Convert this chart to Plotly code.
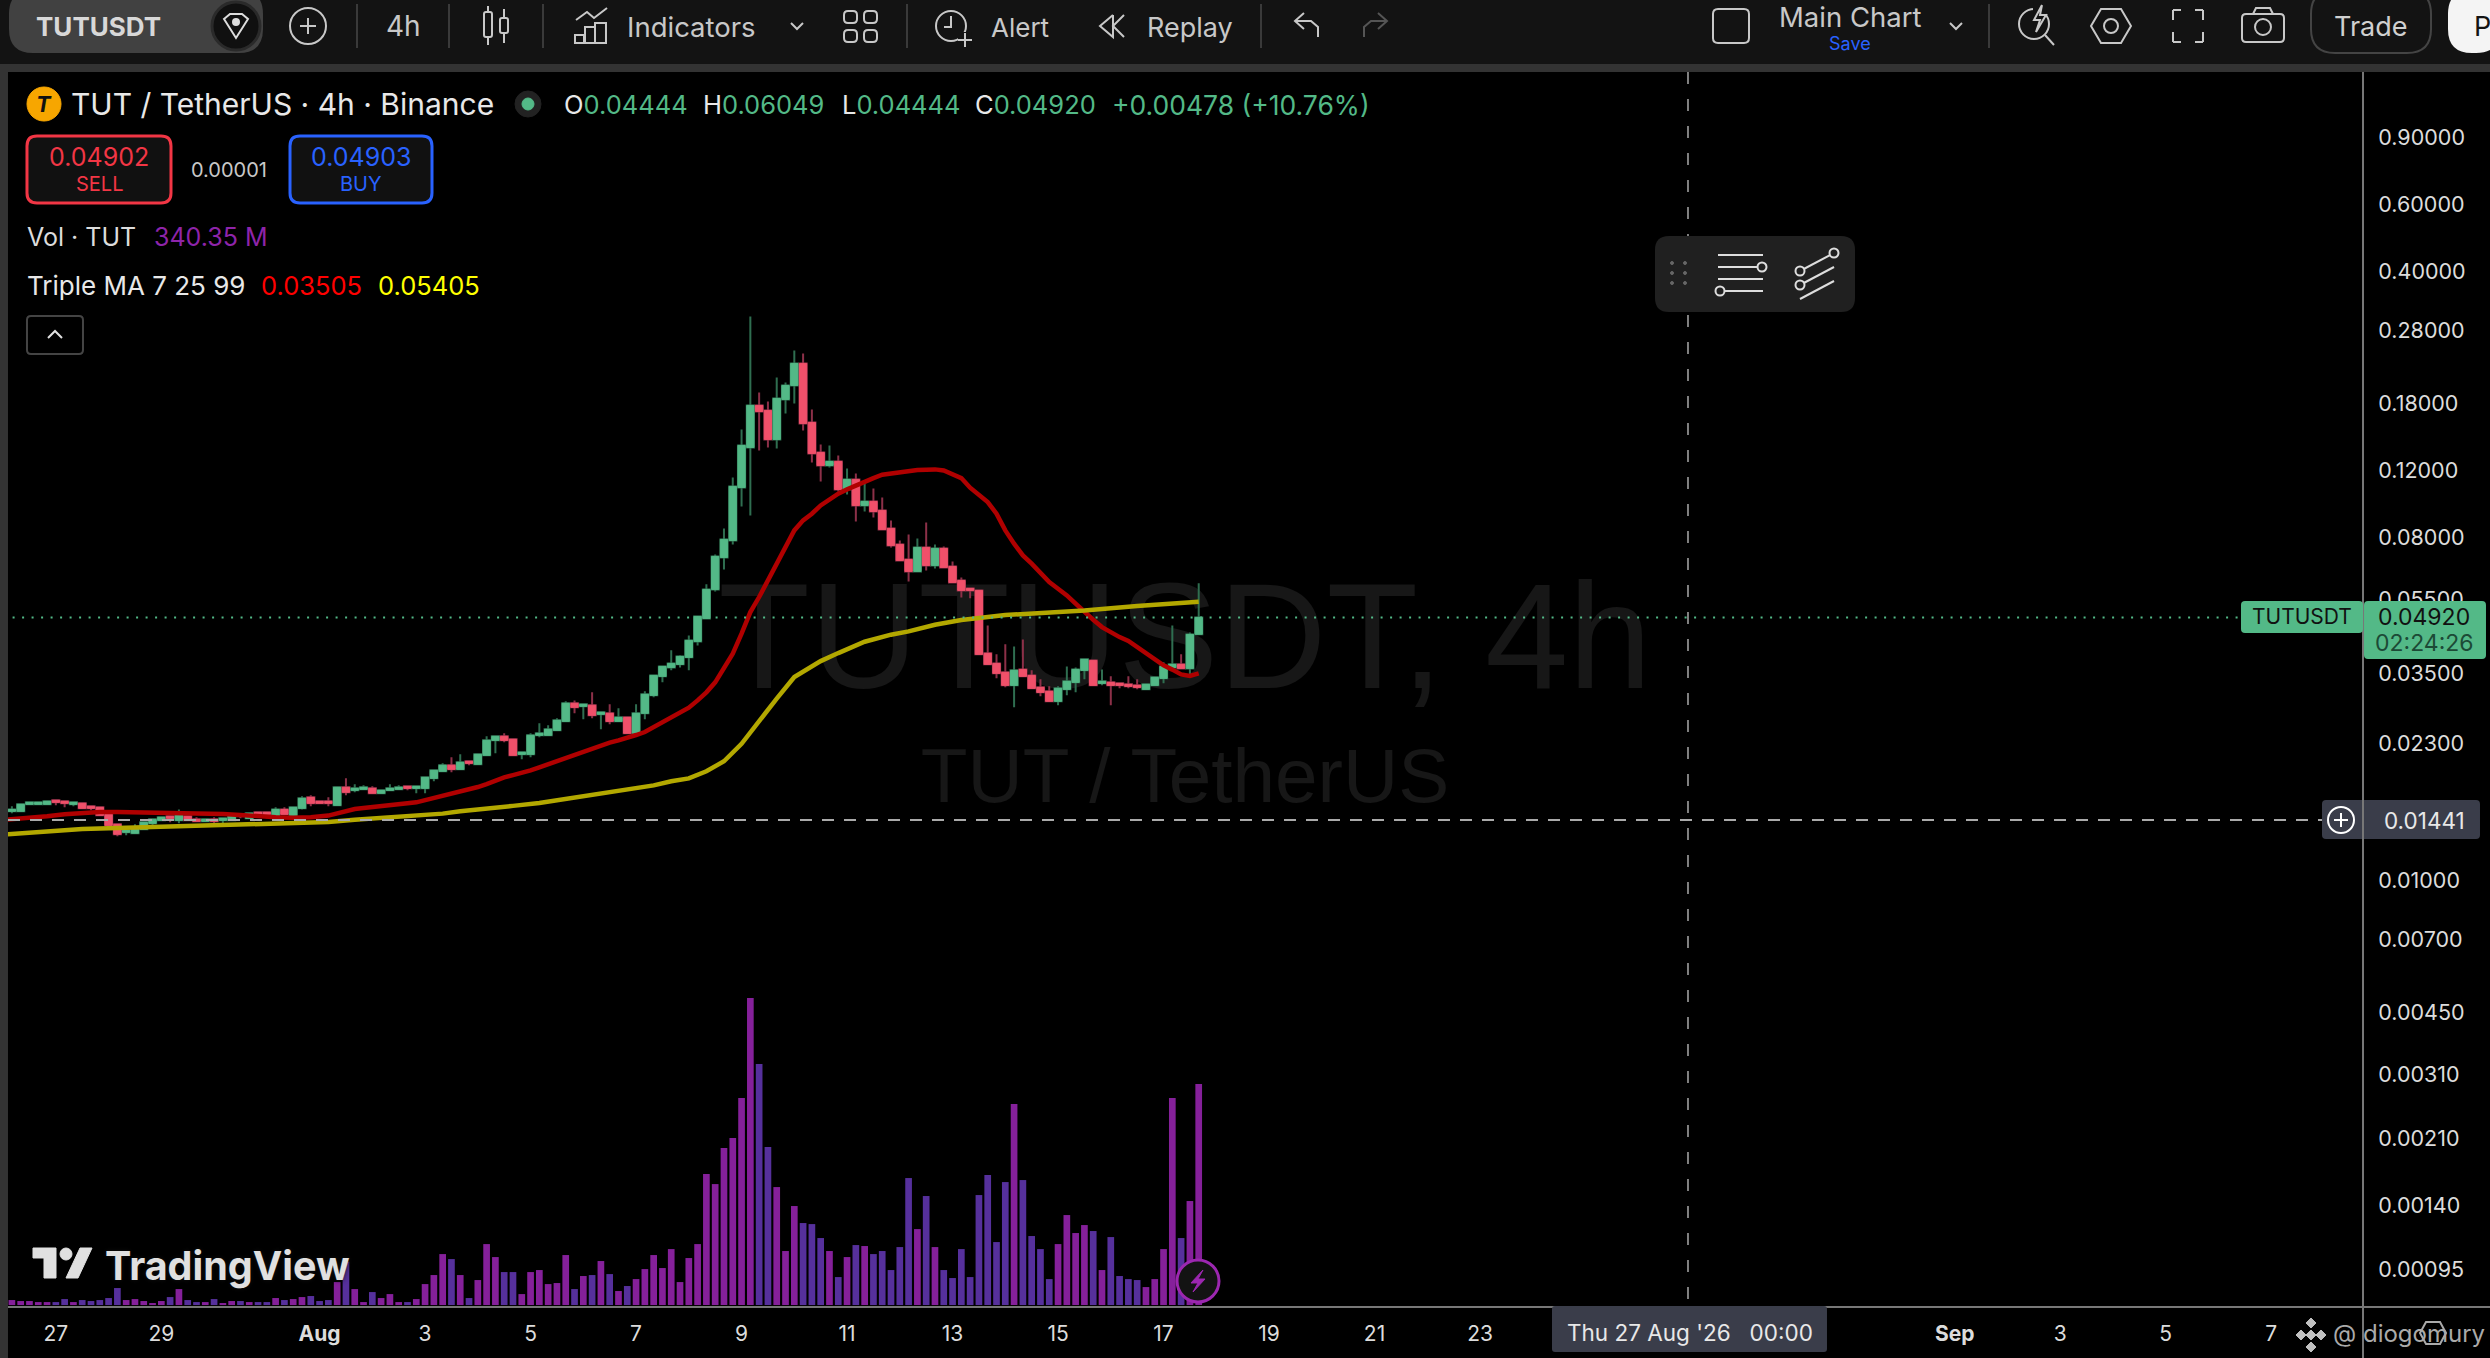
import pandas as pd
import plotly.graph_objects as go

W, H = 2490, 1358

# OHLC, 4h candles
opens = [.01522, .01522, .01588, .01588, .01588, .01627, .01617, .01588, .01598, .01569, .01559, .01495, .01407, .01341, .01333, .01365, .01415, .01441, .01477, .01441,
         .01477, .01450, .01433, .01450, .01441, .01441, .01495, .01459, .01513, .01513, .01477, .01540, .01486, .01550, .01656, .01617, .01617, .01578, .01760, .01728,
         .01739, .01749, .01698, .01728, .01739, .01770, .01749, .01749, .01858, .01939, .02011, .01962, .02060, .02023, .02136, .02338, .02396, .02353, .02149, .02149,
         .02411, .02411, .02484, .02623, .02926, .02873, .02891, .02738, .02754, .02623, .02687, .02440, .02754, .03070, .03444, .03636, .03703, .03863, .04255, .04890,
         .05828, .07073, .07839, .10802, .13760, .17741, .17211, .14443, .18397, .20022, .22873, .16006, .13350, .12341, .12642, .10672, .11338, .09688, .09925, .09399,
         .08430, .07652, .06988, .06499, .07514, .06739, .07469, .06698, .06154, .05864, .05793, .03958, .03725, .03528, .03261, .03592, .03464, .03222, .03145, .02961,
         .03183, .03321, .03571, .03793, .03301, .03321, .03301, .03281, .03261, .03183, .03261, .03402, .03636, .03703, .03614, .04444]
highs = [.01569, .01598, .01617, .01617, .01627, .01627, .01627, .01607, .01607, .01569, .01559, .01495, .01415, .01357, .01407, .01433, .01450, .01477, .01477, .01540,
         .01486, .01468, .01459, .01468, .01468, .01495, .01495, .01504, .01513, .01513, .01559, .01559, .01559, .01667, .01677, .01627, .01656, .01770, .01858, .01792,
         .01781, .01770, .01739, .01792, .01781, .01770, .01770, .01881, .01962, .02035, .02110, .02149, .02072, .02162, .02396, .02396, .02440, .02367, .02188, .02440,
         .02592, .02561, .02671, .02961, .02978, .02926, .03126, .02787, .02908, .02838, .02705, .02908, .03145, .03485, .03658, .04030, .03910, .04412, .04950, .06008,
         .07203, .08430, .11476, .15344, .30392, .19192, .18175, .21014, .20388, .24742, .24299, .17317, .14013, .13928, .13110, .12119, .11758, .11269, .10737, .10168,
         .08848, .07839, .08130, .07935, .08742, .07652, .07560, .06904, .06267, .05864, .05828, .04688, .03934, .04179, .04128, .04307, .03571, .03382, .03242, .03242,
         .03658, .03636, .03840, .03793, .03592, .03444, .03321, .03444, .03382, .03301, .03444, .03748, .04688, .03934, .04493, .06049]
lows = [.01504, .01522, .01578, .01578, .01588, .01578, .01559, .01569, .01550, .01531, .01477, .01398, .01309, .01317, .01333, .01365, .01398, .01433, .01424, .01415,
        .01433, .01433, .01424, .01398, .01415, .01433, .01459, .01459, .01486, .01459, .01477, .01495, .01468, .01540, .01569, .01588, .01569, .01578, .01677, .01708,
        .01739, .01688, .01698, .01728, .01739, .01728, .01698, .01698, .01825, .01927, .01927, .01962, .02011, .02023, .02123, .02162, .02310, .02123, .02085, .02110,
        .02381, .02411, .02484, .02607, .02754, .02655, .02671, .02500, .02576, .02623, .02425, .02411, .02655, .03033, .03321, .03571, .03636, .03571, .04153, .04890,
        .05758, .06578, .07652, .09629, .09119, .13512, .13760, .13677, .16903, .17957, .15250, .12566, .11202, .12192, .10544, .10355, .08795, .09342, .09010, .08328,
        .07514, .06946, .06117, .06499, .06538, .06618, .06618, .06080, .05553, .05520, .03910, .03681, .03402, .03222, .02855, .03423, .03183, .03052, .02961, .02891,
        .03070, .03126, .03382, .03242, .03261, .02891, .03203, .03203, .03183, .03183, .03242, .03301, .03636, .03614, .03464, .04444]
closes = [.01540, .01588, .01607, .01607, .01617, .01607, .01598, .01607, .01550, .01550, .01486, .01398, .01325, .01357, .01373, .01424, .01450, .01468, .01459, .01486,
          .01441, .01433, .01450, .01433, .01459, .01477, .01477, .01504, .01495, .01495, .01540, .01495, .01559, .01646, .01598, .01598, .01598, .01760, .01708, .01749,
          .01760, .01698, .01728, .01749, .01760, .01749, .01770, .01869, .01950, .02011, .01962, .02047, .02035, .02149, .02338, .02396, .02338, .02136, .02175, .02411,
          .02440, .02500, .02639, .02926, .02855, .02908, .02721, .02771, .02623, .02687, .02440, .02754, .03089, .03464, .03658, .03725, .03886, .04281, .04950, .05828,
          .07116, .07887, .10868, .13928, .17741, .17108, .14443, .18508, .20022, .22873, .15911, .13270, .12341, .12642, .10672, .11338, .09688, .09925, .09342, .08379,
          .07606, .06946, .06499, .07514, .06739, .07469, .06658, .06080, .05793, .05793, .03934, .03703, .03507, .03261, .03571, .03444, .03203, .03126, .02961, .03203,
          .03341, .03592, .03817, .03261, .03341, .03261, .03261, .03242, .03222, .03281, .03423, .03658, .03703, .03614, .04439, .04920]

# volume in millions of TUT
volumes = [7.7, 6.2, 6.2, 4.6, 4.6, 4.6, 9.2, 4.6, 7.7, 6.2, 7.7, 10.8, 26.2, 7.7, 9.2, 6.2, 3.1, 6.2, 12.3, 24.6,
           7.7, 4.6, 4.6, 9.2, 3.1, 6.2, 6.2, 4.6, 4.6, 4.6, 10.8, 7.7, 9.2, 12.3, 13.9, 6.2, 7.7, 35.4, 66.7, 24.6,
           4.6, 20.0, 10.8, 16.9, 4.6, 4.6, 9.2, 32.3, 46.2, 78.5, 70.8, 46.2, 10.8, 38.5, 93.9, 73.9, 50.8, 50.8, 16.9, 50.8,
           53.9, 32.3, 33.9, 77.0, 24.6, 44.7, 46.2, 67.8, 47.7, 21.6, 29.3, 40.0, 55.4, 77.0, 57.0, 86.2, 35.4, 72.4, 93.9, 201.7,
           186.3, 241.8, 257.2, 318.8, 472.8, 371.1, 243.3, 181.7, 83.2, 152.5, 126.3, 124.7, 103.2, 83.2, 43.1, 73.9, 92.4, 90.9, 78.5, 83.2,
           53.9, 89.3, 195.6, 117.0, 167.9, 89.3, 53.9, 41.6, 86.2, 43.1, 169.4, 200.2, 97.0, 189.4, 309.5, 192.5, 106.3, 86.2, 40.0, 93.9,
           138.6, 110.9, 123.2, 114.0, 53.9, 104.7, 44.7, 40.0, 38.5, 27.7, 40.0, 86.2, 318.8, 103.2, 160.2, 340.35]

# moving averages, read at these candle numbers
ma25_bars = [-1, 0, 2, 4, 6, 8, 10, 12, 14, 16, 18, 20, 22, 24, 26, 28, 30, 32, 34, 36, 38] + list(range(39, 136))
ma25_values = [.01445, .01450, .01465, .01477, .01495, .01510, .01516, .01515, .01513, .01513, .01510, .01507, .01502, .01498, .01489, .01474, .01468, .01465, .01468, .01483, .01522,
               .01543, .01552, .01559, .01569, .01578, .01588, .01598, .01607, .01627, .01649, .01671, .01691, .01711, .01736, .01763, .01795, .01836, .01869, .01895, .01919,
               .01950, .01986, .02023, .02060, .02106, .02149, .02188, .02228, .02269, .02306, .02338, .02371, .02415, .02459, .02535, .02603, .02687, .02766, .02850, .02978,
               .03126, .03321, .03643, .03951, .04458, .05080, .05565, .06154, .06808, .07606, .08328, .08848, .09214, .09688, .10046, .10398, .10672, .10934, .11202, .11428,
               .11666, .11758, .11850, .11922, .11995, .12024, .12047, .11972, .11735, .11428, .10782, .10292, .09884, .09214, .08328, .07684, .07160, .06808, .06409, .06091,
               .05853, .05621, .05345, .05080, .04852, .04640, .04484, .04367, .04265, .04111, .03951, .03793, .03681, .03587, .03485, .03451, .03505]
ma99_bars = [-1, 0, 4, 8, 12, 16, 20, 24, 28, 32, 36, 39, 42, 46, 49, 51, 54, 57, 60, 62, 64, 66, 69, 71, 73, 75, 77, 79, 81, 83, 85, 87, 89, 92, 94, 97, 100, 102, 105, 108, 113, 117, 122, 128, 135]
ma99_values = [.01322, .01327, .01349, .01367, .01375, .01384, .01392, .01398, .01409, .01415, .01427, .01446, .01462, .01480, .01501, .01522, .01543, .01573, .01600, .01627,
               .01650, .01681, .01715, .01746, .01781, .01825, .01858, .01939, .02060, .02290, .02639, .03010, .03429, .03777, .03965, .04247, .04431, .04520, .04707, .04840,
               .04989, .05050, .05132, .05268, .05405]

price_ticks = [0.9, 0.6, 0.4, 0.28, 0.18, 0.12, 0.08, 0.055, 0.035, 0.023, 0.01, 0.007, 0.0045, 0.0031, 0.0021, 0.0014, 0.00095]
date_ticks = ["2026-07-27", "2026-07-29", "2026-08-01", "2026-08-03", "2026-08-05", "2026-08-07", "2026-08-09", "2026-08-11", "2026-08-13", "2026-08-15", "2026-08-17",
              "2026-08-19", "2026-08-21", "2026-08-23", "2026-09-01", "2026-09-03", "2026-09-05", "2026-09-07"]
date_labels = ["27", "29", "<b>Aug</b>", "3", "5", "7", "9", "11", "13", "15", "17", "19", "21", "23", "<b>Sep</b>", "3", "5", "7"]

UP, DOWN = "#53b987", "#f0506a"
UP_WICK, DOWN_WICK = "#2f6e50", "#8c3048"
VOL_UP, VOL_DOWN = "#85209a", "#56309c"
FONT = "Inter"

start = pd.Timestamp("2026-07-26 04:00")
times = [start + pd.Timedelta(hours=4 * i) for i in range(len(closes))]


def bar_time(i):
    return start + pd.Timedelta(hours=4 * i)


# everything around the chart is placed in screen pixels
def X(x):
    return x / W


def Y(y):
    return 1 - y / H


shapes = []
notes = []


def poly(points, color="#c8c8c8", width=2, fill=None, closed=False, dash=None):
    d = "M " + " L ".join(f"{X(x):.5f},{Y(y):.5f}" for x, y in points) + (" Z" if closed else "")
    shapes.append(dict(type="path", xref="paper", yref="paper", path=d, fillcolor=fill or "rgba(0,0,0,0)",
                       line=dict(color=color, width=width, dash=dash or "solid")))


def box(x0, y0, x1, y1, fill, color=None, width=0, r=0):
    q = lambda a, b: f"{X(a):.5f},{Y(b):.5f}"
    d = (f"M {q(x0 + r, y0)} L {q(x1 - r, y0)} Q {q(x1, y0)} {q(x1, y0 + r)} L {q(x1, y1 - r)} Q {q(x1, y1)} {q(x1 - r, y1)} "
         f"L {q(x0 + r, y1)} Q {q(x0, y1)} {q(x0, y1 - r)} L {q(x0, y0 + r)} Q {q(x0, y0)} {q(x0 + r, y0)} Z")
    shapes.append(dict(type="path", xref="paper", yref="paper", path=d, fillcolor=fill,
                       line=dict(color=color or fill, width=width)))


def ring(cx, cy, r, color="#c8c8c8", width=2, fill="rgba(0,0,0,0)"):
    shapes.append(dict(type="circle", xref="paper", yref="paper", x0=X(cx - r), x1=X(cx + r), y0=Y(cy + r), y1=Y(cy - r),
                       fillcolor=fill, line=dict(color=color, width=width)))


def txt(x, y, s, size, color="#dcdcdc", anchor="left", family=FONT, shadow=None):
    font = dict(family=family, size=size, color=color)
    if shadow:
        font["shadow"] = shadow
    notes.append(dict(xref="paper", yref="paper", x=X(x), y=Y(y), text=s, showarrow=False, xanchor=anchor, yanchor="middle",
                      font=font, borderpad=0, borderwidth=0))


fig = go.Figure()

# wicks and bodies go in separate traces, the wicks are dimmer than the bodies
fig.add_trace(go.Candlestick(x=times, open=opens, high=highs, low=lows, close=closes, whiskerwidth=0, hoverinfo="skip", showlegend=False,
                             increasing=dict(line=dict(color=UP_WICK, width=2), fillcolor="rgba(0,0,0,0)"),
                             decreasing=dict(line=dict(color=DOWN_WICK, width=2), fillcolor="rgba(0,0,0,0)")))
body_high = [max(o, c) for o, c in zip(opens, closes)]
body_low = [min(o, c) for o, c in zip(opens, closes)]
fig.add_trace(go.Candlestick(x=times, open=opens, high=body_high, low=body_low, close=closes, whiskerwidth=0, hoverinfo="skip", showlegend=False,
                             increasing=dict(line=dict(color=UP, width=1), fillcolor=UP),
                             decreasing=dict(line=dict(color=DOWN, width=1), fillcolor=DOWN)))
fig.add_trace(go.Scatter(x=[bar_time(i) for i in ma25_bars], y=ma25_values, mode="lines", line=dict(color="#b00000", width=4.5), hoverinfo="skip", showlegend=False))
fig.add_trace(go.Scatter(x=[bar_time(i) for i in ma99_bars], y=ma99_values, mode="lines", line=dict(color="#b3a800", width=4.5), hoverinfo="skip", showlegend=False))
fig.add_trace(go.Scatter(x=["2026-07-26 00:00", "2026-09-06 10:00"], y=[closes[-1], closes[-1]], mode="lines", line=dict(color=UP, width=2, dash="2px 7.5px"), hoverinfo="skip", showlegend=False))
fig.add_trace(go.Bar(x=times, y=volumes, yaxis="y2", hoverinfo="skip", showlegend=False,
                     marker=dict(color=[VOL_UP if c >= o else VOL_DOWN for o, c in zip(opens, closes)], line_width=0)))

# background watermark stays under the candles
for cx, cy, dx, dy, label, size in [(1185, 622, 520, 90, "TUTUSDT, 4h", 150), (1185, 768, 300, 45, "TUT / TetherUS", 76.5)]:
    shapes.append(dict(type="rect", xref="paper", yref="paper", layer="below", x0=X(cx - dx), x1=X(cx + dx), y0=Y(cy + dy), y1=Y(cy - dy),
                       fillcolor="rgba(0,0,0,0)", line_width=0,
                       label=dict(text=label, textposition="middle center", font=dict(family="Liberation Sans", size=size, color="#171717"))))

# frame
box(0, 0, W, 64, "#131313")
box(0, 64, W, 72, "#333333")
box(0, 72, 8, H, "#333333")
poly([(8, 1307), (W, 1307)], "#777777", 2)
poly([(2363, 72), (2363, H)], "#777777", 2)

# top bar, left part
box(9, -10, 263, 53, "#414141", r=24)
txt(98, 26, "<b>TUTUSDT</b>", 26, "#d8d8d8", "center")
ring(236, 26, 24, "#2a2a2a", 3, "#101010")
poly([(224, 19), (230, 14), (242, 14), (248, 19), (236, 38)], "#dddddd", 2, closed=True)
ring(236, 22, 3, "#dddddd", 2, "#dddddd")
ring(308, 26, 18, "#c8c8c8", 2)
poly([(308, 18), (308, 34)])
poly([(300, 26), (316, 26)])
for sx in [357, 449, 543, 907, 1261, 1989]:
    poly([(sx, 4), (sx, 48)], "#3a3a3a", 2)
txt(403, 26, "4h", 28, "#c8c8c8", "center")
poly([(488, 6), (488, 45)])
poly([(504, 9), (504, 43)])
box(484, 12, 492, 37, "#131313", "#c8c8c8", 2, 2)
box(500, 18, 508, 33, "#131313", "#c8c8c8", 2, 2)
poly([(576, 20), (587, 12), (594, 18), (607, 8)])
box(575, 35, 584, 43, "#131313", "#c8c8c8", 2)
box(585, 27, 595, 43, "#131313", "#c8c8c8", 2)
box(595, 23, 606, 43, "#131313", "#c8c8c8", 2)
txt(627, 27, "Indicators", 27.5, "#c8c8c8")
poly([(791, 23), (797, 29), (803, 23)])
for bx in [844, 864]:
    for by in [11, 30]:
        box(bx, by, bx + 13, by + 12, "#131313", "#c8c8c8", 2, 4)
ring(951, 26, 15)
poly([(951, 16), (951, 27), (944, 27)])
box(958, 32, 972, 50, "#131313")
poly([(965, 33), (965, 47)])
poly([(958, 40), (972, 40)])
txt(991, 27, "Alert", 26, "#c8c8c8")
poly([(1113, 15), (1100, 26), (1113, 37), (1113, 15)])
poly([(1124, 15), (1113, 26), (1124, 37)])
txt(1147, 27, "Replay", 27, "#c8c8c8")
poly([(1304, 13), (1295, 21), (1304, 29)])
poly([(1295, 21), (1311, 21), (1318, 27), (1318, 37)])
poly([(1378, 13), (1387, 21), (1378, 29)], "#555555")
poly([(1387, 21), (1371, 21), (1364, 27), (1364, 37)], "#555555")

# top bar, right part
box(1713, 9, 1749, 43, "#131313", "#c8c8c8", 2, 5)
txt(1850, 17, "Main Chart", 27.5, "#c8c8c8", "center")
txt(1850, 43, "Save", 18, "#2962ff", "center")
poly([(1950, 23), (1956, 29), (1962, 23)])
ring(2034, 24, 15)
box(2033, 2, 2046, 30, "#131313")
poly([(2042, 5), (2034, 20), (2040, 20), (2036, 32), (2046, 15), (2040, 15), (2042, 5)])
poly([(2045, 35), (2054, 45)])
poly([(2101, 9), (2121, 9), (2131, 26), (2121, 43), (2101, 43), (2091, 26)], closed=True)
ring(2111, 26, 7)
for ax, ay, bx, by in [(2173, 10, 2181, 10), (2195, 10, 2203, 10), (2173, 42, 2181, 42), (2195, 42, 2203, 42)]:
    poly([(ax, ay), (bx, by)])
for ax, ay, by in [(2173, 10, 20), (2203, 10, 20), (2173, 32, 42), (2203, 32, 42)]:
    poly([(ax, ay), (ax, by)])
box(2242, 14, 2284, 42, "#131313", "#c8c8c8", 2, 4)
poly([(2253, 14), (2256, 8), (2270, 8), (2273, 14)])
ring(2263, 27, 8)
box(2311, -10, 2431, 53, "#131313", "#444444", 2, 24)
txt(2371, 26, "Trade", 27, "#d0d0d0", "center")
box(2448, -10, 2500, 53, "#f4f4f4", r=24)
txt(2474, 26, "P", 27, "#131313")

# chart legend
ring(44, 104, 17, "#f7a600", 1, "#f7a600")
txt(44, 104, "<b><i>T</i></b>", 22, "#111111", "center")
txt(71, 104, "TUT / TetherUS · 4h · Binance", 30, "#e8e8e8")
ring(528, 104, 13, "#222222", 1, "#222222")
ring(528, 104, 6, UP, 1, UP)
g = lambda s: f'<span style="color:{UP}">{s}</span>'
txt(564, 105, f"O{g('0.04444')}", 25.5, "#e8e8e8")
txt(703, 105, f"H{g('0.06049')}", 25.5, "#e8e8e8")
txt(842, 105, f"L{g('0.04444')}", 25.5, "#e8e8e8")
txt(975, 105, f"C{g('0.04920')}", 25.5, "#e8e8e8")
txt(1112, 105, "+0.00478 (+10.76%)", 26.5, UP)
box(27, 136, 171, 203, "#111111", "#f23645", 3, 10)
txt(99, 157, "0.04902", 25, "#f23645", "center")
txt(99, 184, "SELL", 20, "#f23645", "center")
txt(229, 170, "0.00001", 20, "#c8c8c8", "center")
box(290, 136, 432, 203, "#111111", "#2962ff", 3, 10)
txt(361, 157, "0.04903", 25, "#2962ff", "center")
txt(361, 184, "BUY", 20, "#2962ff", "center")
txt(27, 237, "Vol · TUT", 25, "#dcdcdc")
txt(154, 237, "340.35 M", 25, "#8e24aa")
txt(27, 285, "Triple MA 7 25 99", 26, "#e8e8e8")
txt(261, 285, "0.03505", 25.5, "#ff0000")
txt(378, 285, "0.05405", 25.5, "#ffff00")
box(27, 316, 83, 354, "#000000", "#444444", 2, 4)
poly([(48, 338), (55, 331), (62, 338)], "#e0e0e0")

# crosshair
poly([(1688, 72), (1688, 1307)], "#aaaaaa", 1.5, dash="12px 15px")
poly([(8, 820), (2322, 820)], "#aaaaaa", 2, dash="12px 10px")

# floating drawing toolbar
box(1655, 236, 1855, 312, "#202020", r=14)
for dx_ in [1672, 1685]:
    for dy_ in [263, 273, 283]:
        ring(dx_, dy_, 1.5, "#666666", 1, "#666666")
for ly in [255, 267, 279, 291]:
    poly([(1718, ly), (1763, ly)], "#dddddd", 2)
ring(1762, 267, 4.5, "#dddddd", 2, "#202020")
ring(1720, 291, 4.5, "#dddddd", 2, "#202020")
for a, b in [(271, 253), (285, 267), (299, 281)]:
    poly([(1800, a), (1834, b)], "#dddddd", 2)
ring(1834, 253, 4.5, "#dddddd", 2, "#202020")
ring(1800, 271, 4.5, "#dddddd", 2, "#202020")
ring(1800, 285, 4.5, "#dddddd", 2, "#202020")

# labels on the scales
box(2241, 601, 2363, 633, UP, r=4)
txt(2302, 617, "TUTUSDT", 21, "#111111", "center")
box(2364, 601, 2486, 659, UP, r=4)
txt(2424, 617, "0.04920", 23, "#111111", "center")
txt(2424, 643, "02:24:26", 23, "#1c4a36", "center")
box(2322, 800, 2480, 839, "#3a3d4a", r=4)
poly([(2363, 800), (2363, 839)], "#777777", 2)
ring(2341, 820, 13, "#ffffff", 2)
poly([(2341, 813), (2341, 827)], "#ffffff")
poly([(2334, 820), (2348, 820)], "#ffffff")
txt(2424, 820, "0.01441", 22.5, "#e8e8e8", "center")
box(1552, 1306, 1827, 1352, "#3a3d4a", r=3)
txt(1690, 1332, "Thu 27 Aug '26&nbsp;&nbsp;&nbsp;00:00", 22.5, "#e8e8e8", "center")

# logo and small overlays
poly([(33, 1248), (56, 1248), (56, 1278), (44, 1278), (44, 1258), (33, 1258)], "#e0e0e0", 1, "#e0e0e0", True)
ring(66, 1254, 6, "#e0e0e0", 1, "#e0e0e0")
poly([(80, 1248), (92, 1248), (78, 1278), (66, 1278)], "#e0e0e0", 1, "#e0e0e0", True)
txt(105, 1266, "<b>TradingView</b>", 39.5, "#e0e0e0", shadow="0px 0px 5px #111111")
ring(1198, 1281, 21, "#9c27b0", 3, "#131313")
poly([(1203, 1270), (1191, 1283), (1198, 1283), (1193, 1292), (1205, 1279), (1198, 1279)], "#9c27b0", 1, "#9c27b0", True)
for bx, by in [(2311, 1335), (2301, 1335), (2321, 1335), (2311, 1323), (2311, 1347)]:
    poly([(bx, by - 5), (bx + 5, by), (bx, by + 5), (bx - 5, by)], "#c0c0c0", 1, "#c0c0c0", True)
txt(2333, 1333, "@ diogomury", 24, "#aaaaaa")
poly([(2426, 1322), (2440, 1322), (2446, 1333), (2440, 1344), (2426, 1344), (2420, 1333)], "#aaaaaa", 2, closed=True)

fig.update_layout(
    width=W, height=H,
    margin=dict(l=0, r=0, t=0, b=0),
    paper_bgcolor="#000000", plot_bgcolor="#000000",
    font=dict(family=FONT, color="#dcdcdc", size=21),
    showlegend=False, hovermode=False, dragmode=False,
    boxgap=0.18, boxgroupgap=0, bargap=0.24,
    shapes=shapes, annotations=notes,
    xaxis=dict(domain=[X(8), X(2363)], type="date", range=["2026-07-26 02:14", "2026-09-08 17:45"],
               rangeslider=dict(visible=False), showgrid=False, zeroline=False, showline=False,
               tickmode="array", tickvals=date_ticks, ticktext=date_labels, ticks="outside", ticklen=8, tickcolor="rgba(0,0,0,0)",
               tickfont=dict(family=FONT, size=21, color="#dcdcdc"), tickangle=0),
    yaxis=dict(domain=[Y(1307), Y(72)], type="log", side="right", range=[-3.120, 0.125], showgrid=False, zeroline=False, showline=False,
               tickmode="array", tickvals=price_ticks, ticktext=[f"{v:.5f}" for v in price_ticks], ticks="outside", ticklen=10, tickcolor="rgba(0,0,0,0)",
               tickfont=dict(family=FONT, size=21.5, color="#dcdcdc")),
    yaxis2=dict(domain=[Y(1307), Y(72)], overlaying="y", side="left", range=[-3, 1899], visible=False),
)

fig.write_html("out.html", config=dict(displayModeBar=False), post_script="document.body.style.margin='0';")
